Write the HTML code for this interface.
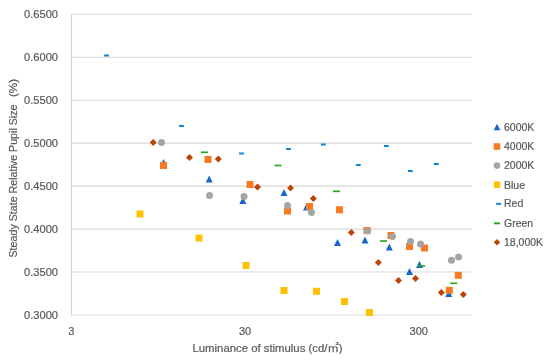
<!DOCTYPE html>
<html><head><meta charset="utf-8"><title>Chart</title>
<style>
html,body{margin:0;padding:0;background:#fff;}
body{width:550px;height:362px;overflow:hidden;}
svg{display:block;}
.t{font-family:"Liberation Sans","Noto Sans CJK JP",sans-serif;font-size:11px;fill:#595959;stroke:#595959;stroke-width:0.2px;}
.lg{font-size:10.5px;}
</style></head><body>
<svg width="550" height="362" viewBox="0 0 550 362">
<rect width="550" height="362" fill="#fff"/>
<line x1="71" y1="14.30" x2="471.5" y2="14.30" stroke="#D9D9D9" stroke-width="1.1"/>
<line x1="71" y1="57.26" x2="471.5" y2="57.26" stroke="#D9D9D9" stroke-width="1.1"/>
<line x1="71" y1="100.21" x2="471.5" y2="100.21" stroke="#D9D9D9" stroke-width="1.1"/>
<line x1="71" y1="143.17" x2="471.5" y2="143.17" stroke="#D9D9D9" stroke-width="1.1"/>
<line x1="71" y1="186.13" x2="471.5" y2="186.13" stroke="#D9D9D9" stroke-width="1.1"/>
<line x1="71" y1="229.09" x2="471.5" y2="229.09" stroke="#D9D9D9" stroke-width="1.1"/>
<line x1="71" y1="272.04" x2="471.5" y2="272.04" stroke="#D9D9D9" stroke-width="1.1"/>
<line x1="71" y1="315.00" x2="471.5" y2="315.00" stroke="#D9D9D9" stroke-width="1.1"/>
<line x1="71.5" y1="13.8" x2="71.5" y2="315.5" stroke="#D4D4D4" stroke-width="1.1"/>
<text x="58" y="17.8" text-anchor="end" textLength="34" lengthAdjust="spacingAndGlyphs" class="t">0.6500</text>
<text x="58" y="60.8" text-anchor="end" textLength="34" lengthAdjust="spacingAndGlyphs" class="t">0.6000</text>
<text x="58" y="103.8" text-anchor="end" textLength="34" lengthAdjust="spacingAndGlyphs" class="t">0.5500</text>
<text x="58" y="146.8" text-anchor="end" textLength="34" lengthAdjust="spacingAndGlyphs" class="t">0.5000</text>
<text x="58" y="189.8" text-anchor="end" textLength="34" lengthAdjust="spacingAndGlyphs" class="t">0.4500</text>
<text x="58" y="232.8" text-anchor="end" textLength="34" lengthAdjust="spacingAndGlyphs" class="t">0.4000</text>
<text x="58" y="275.8" text-anchor="end" textLength="34" lengthAdjust="spacingAndGlyphs" class="t">0.3500</text>
<text x="58" y="318.8" text-anchor="end" textLength="34" lengthAdjust="spacingAndGlyphs" class="t">0.3000</text>
<text x="71.3" y="334.5" text-anchor="middle" class="t">3</text>
<text x="245" y="334.5" text-anchor="middle" class="t">30</text>
<text x="418.7" y="334.5" text-anchor="middle" class="t">300</text>
<path d="M163.5 159L167 166L160 166Z" fill="#1666C9"/>
<path d="M209.2 175.5L212.7 182.5L205.7 182.5Z" fill="#1666C9"/>
<path d="M242.8 197L246.3 204L239.3 204Z" fill="#1666C9"/>
<path d="M284 189L287.5 196L280.5 196Z" fill="#1666C9"/>
<path d="M306.5 203.5L310 210.5L303 210.5Z" fill="#1666C9"/>
<path d="M337.5 239L341 246L334 246Z" fill="#1666C9"/>
<path d="M365 236.5L368.5 243.5L361.5 243.5Z" fill="#1666C9"/>
<path d="M389.3 243.5L392.8 250.5L385.8 250.5Z" fill="#1666C9"/>
<path d="M409.5 268L413 275L406 275Z" fill="#1666C9"/>
<path d="M419.5 261L423 268L416 268Z" fill="#1666C9"/>
<path d="M448.8 290L452.3 297L445.3 297Z" fill="#1666C9"/>
<rect x="160" y="162" width="7" height="7" fill="#FA7A22"/>
<rect x="204.5" y="156" width="7" height="7" fill="#FA7A22"/>
<rect x="246.5" y="181" width="7" height="7" fill="#FA7A22"/>
<rect x="284" y="207.5" width="7" height="7" fill="#FA7A22"/>
<rect x="306" y="203" width="7" height="7" fill="#FA7A22"/>
<rect x="336" y="206.3" width="7" height="7" fill="#FA7A22"/>
<rect x="363.5" y="227" width="7" height="7" fill="#FA7A22"/>
<rect x="387.5" y="232" width="7" height="7" fill="#FA7A22"/>
<rect x="406" y="243" width="7" height="7" fill="#FA7A22"/>
<rect x="421" y="244.5" width="7" height="7" fill="#FA7A22"/>
<rect x="445.8" y="286.8" width="7" height="7" fill="#FA7A22"/>
<rect x="454.8" y="271.8" width="7" height="7" fill="#FA7A22"/>
<circle cx="161.5" cy="142.5" r="3.5" fill="#A5A5A5"/>
<circle cx="209.5" cy="195.5" r="3.5" fill="#A5A5A5"/>
<circle cx="244" cy="196.5" r="3.5" fill="#A5A5A5"/>
<circle cx="287.5" cy="205.5" r="3.5" fill="#A5A5A5"/>
<circle cx="311.5" cy="212.5" r="3.5" fill="#A5A5A5"/>
<circle cx="367.5" cy="231" r="3.5" fill="#A5A5A5"/>
<circle cx="392.5" cy="236.5" r="3.5" fill="#A5A5A5"/>
<circle cx="410.5" cy="241.5" r="3.5" fill="#A5A5A5"/>
<circle cx="420.5" cy="244" r="3.5" fill="#A5A5A5"/>
<circle cx="451.5" cy="260.3" r="3.5" fill="#A5A5A5"/>
<circle cx="458.5" cy="257" r="3.5" fill="#A5A5A5"/>
<rect x="136.5" y="210.5" width="7" height="7" fill="#FFC000"/>
<rect x="195.5" y="234.5" width="7" height="7" fill="#FFC000"/>
<rect x="242.5" y="262" width="7" height="7" fill="#FFC000"/>
<rect x="280.5" y="287" width="7" height="7" fill="#FFC000"/>
<rect x="313" y="287.8" width="7" height="7" fill="#FFC000"/>
<rect x="341" y="298" width="7" height="7" fill="#FFC000"/>
<rect x="366" y="309" width="7" height="7" fill="#FFC000"/>
<rect x="104.1" y="54.5" width="4.8" height="2" fill="#0A86D6"/>
<rect x="179.1" y="125" width="4.8" height="2" fill="#0A86D6"/>
<rect x="239.1" y="152.5" width="4.8" height="2" fill="#0A86D6"/>
<rect x="286.1" y="148" width="4.8" height="2" fill="#0A86D6"/>
<rect x="320.9" y="143.5" width="4.8" height="2" fill="#0A86D6"/>
<rect x="355.9" y="164" width="4.8" height="2" fill="#0A86D6"/>
<rect x="383.9" y="145" width="4.8" height="2" fill="#0A86D6"/>
<rect x="407.9" y="170" width="4.8" height="2" fill="#0A86D6"/>
<rect x="433.9" y="163" width="4.8" height="2" fill="#0A86D6"/>
<rect x="201" y="151.45" width="7" height="1.7" fill="#2BA82B"/>
<rect x="274.5" y="164.65" width="7" height="1.7" fill="#2BA82B"/>
<rect x="333" y="190.45" width="7" height="1.7" fill="#2BA82B"/>
<rect x="380" y="240.15" width="7" height="1.7" fill="#2BA82B"/>
<rect x="418" y="265.15" width="7" height="1.7" fill="#2BA82B"/>
<rect x="450.3" y="282.45" width="7" height="1.7" fill="#2BA82B"/>
<path d="M153.2 139L156.7 142.5L153.2 146L149.7 142.5Z" fill="#BC4508"/>
<path d="M189.5 154L193 157.5L189.5 161L186 157.5Z" fill="#BC4508"/>
<path d="M218.3 155.5L221.8 159L218.3 162.5L214.8 159Z" fill="#BC4508"/>
<path d="M257.5 183.5L261 187L257.5 190.5L254 187Z" fill="#BC4508"/>
<path d="M290.5 184.5L294 188L290.5 191.5L287 188Z" fill="#BC4508"/>
<path d="M313.3 195L316.8 198.5L313.3 202L309.8 198.5Z" fill="#BC4508"/>
<path d="M351.3 229L354.8 232.5L351.3 236L347.8 232.5Z" fill="#BC4508"/>
<path d="M378.3 259L381.8 262.5L378.3 266L374.8 262.5Z" fill="#BC4508"/>
<path d="M398.5 277L402 280.5L398.5 284L395 280.5Z" fill="#BC4508"/>
<path d="M415.5 275L419 278.5L415.5 282L412 278.5Z" fill="#BC4508"/>
<path d="M441.3 289L444.8 292.5L441.3 296L437.8 292.5Z" fill="#BC4508"/>
<path d="M463.3 291L466.8 294.5L463.3 298L459.8 294.5Z" fill="#BC4508"/>
<path d="M497 123.7L500.3 130.3L493.7 130.3Z" fill="#1666C9"/>
<text x="504" y="130.8" class="t lg">6000K</text>
<rect x="493.7" y="143.2" width="6.6" height="6.6" fill="#FA7A22"/>
<text x="504" y="150.3" class="t lg">4000K</text>
<circle cx="497" cy="165.6" r="3.3" fill="#A5A5A5"/>
<text x="504" y="169.4" class="t lg">2000K</text>
<rect x="493.8" y="181.5" width="6.4" height="6.4" fill="#FFC000"/>
<text x="504" y="188.5" class="t lg">Blue</text>
<rect x="496.2" y="202.8" width="4.8" height="2" fill="#0A86D6"/>
<text x="504" y="207.3" class="t lg">Red</text>
<rect x="494" y="222.3" width="6" height="2" fill="#2BA82B"/>
<text x="504" y="227.10000000000002" class="t lg">Green</text>
<path d="M497 239.1L500.2 242.3L497 245.5L493.8 242.3Z" fill="#BC4508"/>
<text x="504" y="246.10000000000002" class="t lg">18,000K</text>
<text x="192.5" y="352" textLength="150" lengthAdjust="spacingAndGlyphs" class="t ttl">Luminance of stimulus (cd/㎡)</text>
<text transform="translate(17,257.5) rotate(-90)" x="0" y="0" textLength="153" lengthAdjust="spacingAndGlyphs" class="t ttl">Steady State Relative Pupil Size</text>
<text transform="translate(17,97) rotate(-90)" x="0" y="0" textLength="18" lengthAdjust="spacingAndGlyphs" class="t ttl">(%)</text>
</svg>
</body></html>
